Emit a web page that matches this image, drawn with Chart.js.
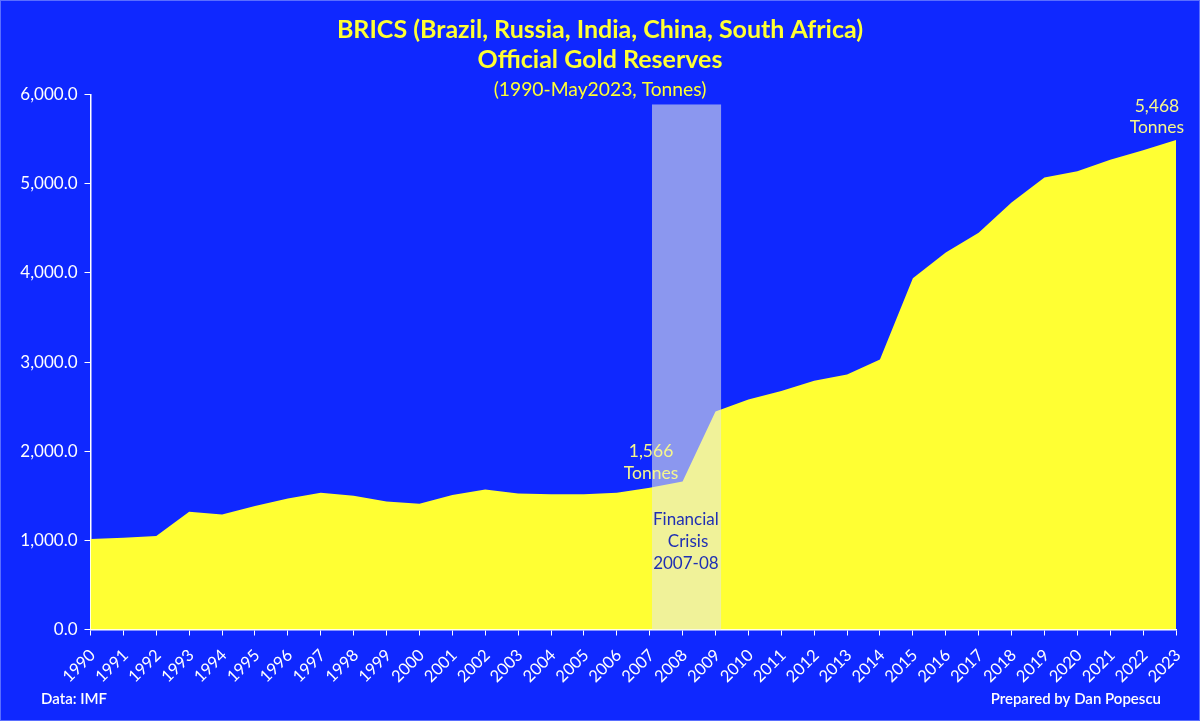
<!DOCTYPE html>
<html lang="en">
<head>
  <meta charset="UTF-8" />
  <title>BRICS Official Gold Reserves</title>
  <script src="https://cdn.jsdelivr.net/npm/chart.js"></script>
  <style>
    html, body { margin: 0; padding: 0; background: #0f28ff; overflow: hidden; }
    canvas { display: block; }
  </style>
</head>
<body>
  <canvas id="goldChart" width="1200" height="721"></canvas>

  <script>
    const years = ['1990','1991','1992','1993','1994','1995','1996','1997','1998','1999','2000','2001',
      '2002','2003','2004','2005','2006','2007','2008','2009','2010','2011','2012','2013','2014','2015',
      '2016','2017','2018','2019','2020','2021','2022','2023'];
    const reserves = [1015,1030,1050,1320,1290,1385,1470,1535,1500,1435,1410,1510,
      1570,1525,1518,1518,1535,1590,1660,2445,2580,2675,2790,2860,3030,3940,
      4230,4450,4790,5070,5140,5270,5375,5490];
    const titleLines = ['BRICS (Brazil, Russia, India, China, South Africa)', 'Official Gold Reserves'];
    const subtitleText = '(1990-May2023, Tonnes)';
    const sourceText = 'Data: IMF';
    const creditText = 'Prepared by Dan Popescu';

    const FONT = 'Lato, "Open Sans", sans-serif';
    const BLUE = '#0f28ff';
    const YELLOW = '#ffff33';

    // band sits slightly right of the 2007 and 2009 ticks in the original
    const crisisBand = { from: 17.07, to: 19.17, top: 5890 };

    function drawLines(ctx, lines, x, y, lineHeight, color, font) {
      ctx.fillStyle = color;
      ctx.font = font;
      ctx.textAlign = 'center';
      ctx.textBaseline = 'middle';
      lines.forEach((line, i) => ctx.fillText(line, x, y + i * lineHeight));
    }

    const background = {
      id: 'background',
      beforeDraw(chart) {
        const { ctx, width, height } = chart;
        ctx.save();
        ctx.fillStyle = BLUE;
        ctx.fillRect(0, 0, width, height);
        ctx.strokeStyle = '#5a6eff';
        ctx.lineWidth = 1;
        ctx.strokeRect(0.5, 0.5, width - 1, height - 1);
        ctx.restore();
      }
    };

    const annotations = {
      id: 'annotations',
      afterDatasetsDraw(chart) {
        const { ctx, scales: { x, y } } = chart;
        ctx.save();

        // financial crisis band
        const left = x.getPixelForValue(crisisBand.from);
        const right = x.getPixelForValue(crisisBand.to);
        const top = y.getPixelForValue(crisisBand.top);
        ctx.fillStyle = 'rgba(230,232,228,0.58)';
        ctx.fillRect(left, top, right - left, y.getPixelForValue(0) - top);

        const labelFont = '17.5px ' + FONT;
        drawLines(ctx, ['1,566', 'Tonnes'], x.getPixelForValue(17.04), y.getPixelForValue(2002), 22, '#f7f78c', labelFont);
        drawLines(ctx, ['Financial', ' Crisis', '2007-08'], x.getPixelForValue(18.1), y.getPixelForValue(1239), 22, '#1f2fb4', '17px ' + FONT);
        drawLines(ctx, ['5,468', 'Tonnes'], x.getPixelForValue(32.42), y.getPixelForValue(5871), 21.5, '#f7f78c', labelFont);

        ctx.restore();
      },
      afterDraw(chart) {
        const { ctx, chartArea } = chart;
        ctx.save();
        ctx.fillStyle = '#ffffff';
        ctx.textBaseline = 'middle';
        ctx.textAlign = 'left';
        ctx.font = '600 15px ' + FONT;
        ctx.fillText(sourceText, 41, 699);
        ctx.textAlign = 'right';
        ctx.fillText(creditText, chartArea.right - 15, 699);
        ctx.restore();
      }
    };

    new Chart(document.getElementById('goldChart'), {
      type: 'line',
      data: {
        labels: years,
        datasets: [{
          label: 'Official gold reserves',
          data: reserves,
          fill: 'origin',
          backgroundColor: YELLOW,
          borderWidth: 0,
          pointRadius: 0,
          tension: 0
        }]
      },
      plugins: [background, annotations],
      options: {
        responsive: false,
        animation: false,
        plugins: {
          legend: { display: false },
          tooltip: { enabled: false },
          title: {
            display: true,
            text: titleLines,
            color: YELLOW,
            font: { family: FONT, size: 25, weight: 'bold', lineHeight: 1.2 },
            padding: { top: 15, bottom: 0 }
          },
          subtitle: {
            display: true,
            text: subtitleText,
            color: YELLOW,
            font: { family: FONT, size: 19.3, lineHeight: 1.2 },
            padding: { top: 3, bottom: -6.5 }
          }
        },
        scales: {
          x: {
            offset: false,
            // right inset set here, not in layout padding, so the title stays centred on the canvas
            afterFit(axis) { axis.height = 91.5; axis.paddingRight = 24; },
            grid: { drawOnChartArea: false, color: '#ffffff', tickLength: 6 },
            border: { color: '#ffffff', width: 1.5 },
            ticks: {
              color: '#ffffff',
              font: { family: FONT, size: 16.5 },
              autoSkip: false,
              minRotation: 45,
              maxRotation: 45,
              padding: 10,
              labelOffset: 2
            }
          },
          y: {
            min: 0,
            max: 6000,
            afterFit(axis) { axis.width = 90.5; },
            grid: { drawOnChartArea: false, color: '#ffffff', tickLength: 6 },
            border: { color: '#ffffff', width: 1.5 },
            ticks: {
              stepSize: 1000,
              color: '#ffffff',
              font: { family: FONT, size: 17 },
              padding: 7,
              callback: v => v.toLocaleString('en-US', { minimumFractionDigits: 1, maximumFractionDigits: 1 })
            }
          }
        }
      }
    });
  </script>
</body>
</html>
